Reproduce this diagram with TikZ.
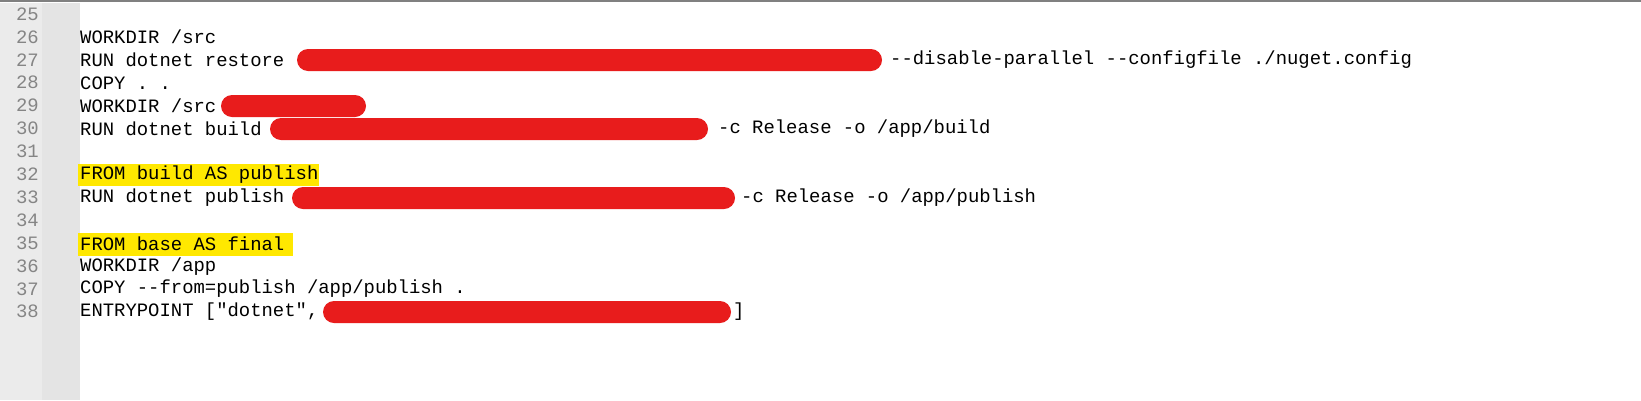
\documentclass[tikz,border=0pt]{standalone}
\usepackage{fontspec}
\setmainfont{Liberation Mono}
\newfontfamily\codefont{Liberation Mono}
\definecolor{gut1}{HTML}{EBEBEB}
\definecolor{gut2}{HTML}{E4E4E4}
\definecolor{blob}{HTML}{E81C1C}
\definecolor{hl}{HTML}{FFE800}
\definecolor{numc}{HTML}{858585}
\begin{document}
\begin{tikzpicture}[x=1pt,y=-1pt,
  code/.style={anchor=west,inner sep=0pt,font=\codefont\fontsize{18.9}{22}\selectfont},
  num/.style={anchor=east,inner sep=0pt,text=numc,font=\codefont\fontsize{18.9}{22}\selectfont},
  redact/.style={fill=blob,rounded corners=11pt}]
\useasboundingbox (0,0) rectangle (1641,400);
\fill[white] (0,0) rectangle (1641,400);
\fill[gut1] (0,3) rectangle (42,400);
\fill[gut2] (42,3) rectangle (80,400);
\draw[gray,line width=2pt] (0,1) -- (1641,1);
\foreach \n [count=\i from 0] in {25,...,38}
  \node[num] (n\n) at (39,{14+22.9*\i}) {\n};
% highlights
\fill[hl] (78,164) rectangle (319,186);
\fill[hl] (78,233) rectangle (293,256);
% redactions
\fill[redact] (297,49) rectangle (882,71);
\fill[redact] (221,95) rectangle (366,117);
\fill[redact] (270,118) rectangle (708,140);
\fill[redact] (292,187) rectangle (735,209);
\fill[redact] (323,301) rectangle (731,323);
\node[code] (l26) at (80,37) {WORKDIR /src};
\node[code] (l27) at (80,60) {RUN dotnet restore};
\node[code] (l27b) at (890,60) {--disable-parallel --configfile ./nuget.config};
\node[code] (l28) at (80,83) {COPY . .};
\node[code] (l29) at (80,106) {WORKDIR /src};
\node[code] (l30) at (80,129) {RUN dotnet build};
\node[code] (l30b) at (718,129) {-c Release -o /app/build};
\node[code] (l32) at (80,175) {FROM build AS publish};
\node[code] (l33) at (80,198) {RUN dotnet publish};
\node[code] (l33b) at (741,198) {-c Release -o /app/publish};
\node[code] (l35) at (80,244) {FROM base AS final};
\node[code] (l36) at (80,267) {WORKDIR /app};
\node[code] (l37) at (80,289) {COPY --from=publish /app/publish .};
\node[code] (l38) at (80,312) {ENTRYPOINT ["dotnet",};
\node[code] (l38b) at (733,312) {]};
\end{tikzpicture}
\end{document}
